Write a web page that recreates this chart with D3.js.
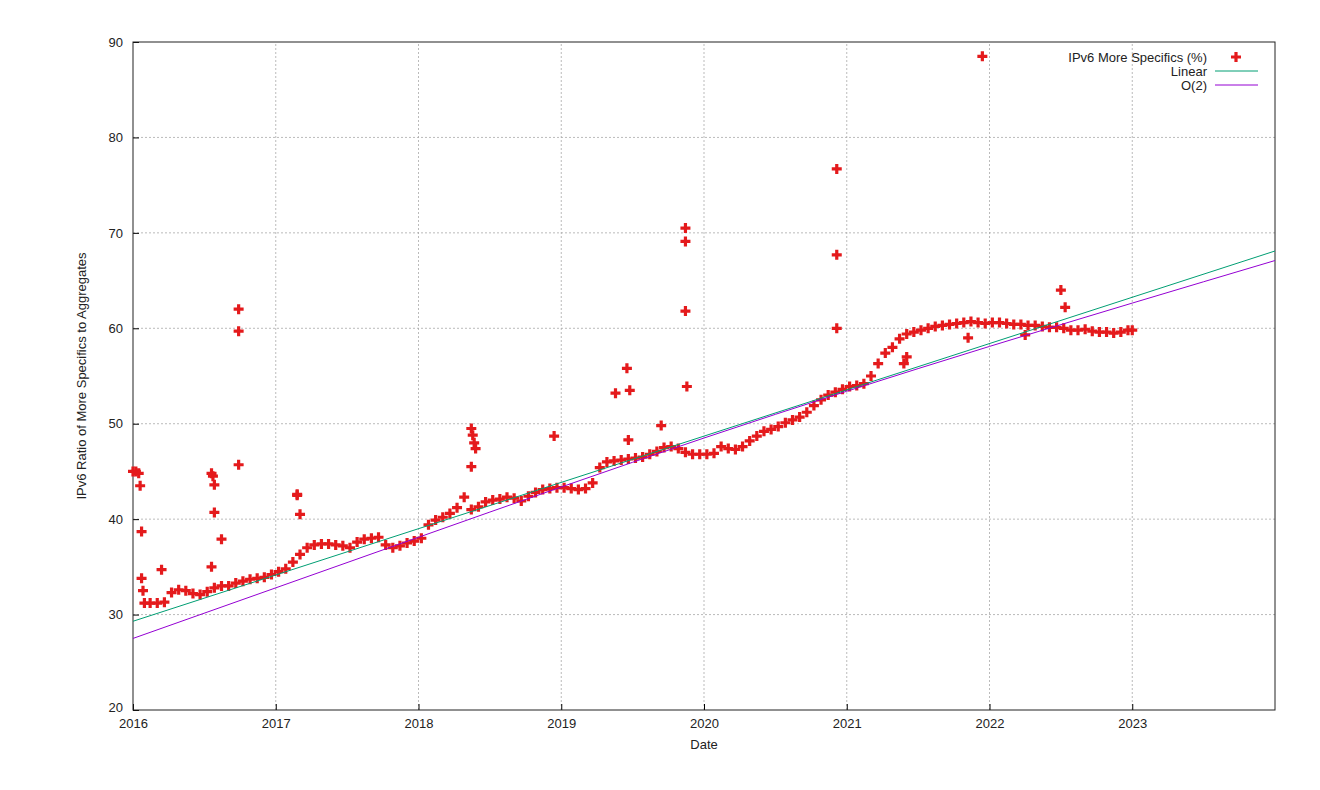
<!DOCTYPE html>
<html><head><meta charset="utf-8">
<script src="https://cdn.jsdelivr.net/npm/d3@7"></script>
<style>body{margin:0;background:#fff}text{font-family:"Liberation Sans",Arial,sans-serif;font-size:13px;fill:#222}</style>
</head><body><svg id="c" width="1320" height="790"></svg>
<script>
// main trend (decimal year, percent)
var trendYears = [2016.08,2016.12,2016.17,2016.22,2016.27,2016.32,2016.37,2016.42,2016.47,2016.52,2016.57,2016.62,2016.67,2016.72,2016.77,2016.82,2016.87,2016.92,2016.97,2017.02,2017.07,2017.12,2017.17,2017.22,2017.27,2017.32,2017.37,2017.42,2017.47,2017.52,2017.57,2017.62,2017.67,2017.72,2017.77,2017.82,2017.87,2017.92,2017.97,2018.02,2018.07,2018.12,2018.17,2018.22,2018.27,2018.32,2018.37,2018.42,2018.47,2018.52,2018.57,2018.62,2018.67,2018.72,2018.77,2018.82,2018.87,2018.92,2018.97,2019.02,2019.07,2019.12,2019.17,2019.22,2019.27,2019.32,2019.37,2019.42,2019.47,2019.52,2019.57,2019.62,2019.67,2019.72,2019.77,2019.82,2019.87,2019.92,2019.97,2020.02,2020.07,2020.12,2020.17,2020.22,2020.27,2020.32,2020.37,2020.42,2020.47,2020.52,2020.57,2020.62,2020.67,2020.72,2020.77,2020.82,2020.87,2020.92,2020.97,2021.02,2021.07,2021.12,2021.17,2021.22,2021.27,2021.32,2021.37,2021.42,2021.47,2021.52,2021.57,2021.62,2021.67,2021.72,2021.77,2021.82,2021.87,2021.92,2021.97,2022.02,2022.07,2022.12,2022.17,2022.22,2022.27,2022.32,2022.37,2022.42,2022.47,2022.52,2022.57,2022.62,2022.67,2022.72,2022.77,2022.82,2022.87,2022.92,2022.97,2023.0];
var trendValues = [31.2,31.2,31.2,31.3,32.3,32.6,32.5,32.2,32.1,32.4,32.8,33.0,33.0,33.3,33.5,33.7,33.8,33.9,34.2,34.5,34.8,35.5,36.3,37.0,37.3,37.4,37.4,37.3,37.2,37.0,37.6,37.9,38.0,38.1,37.3,37.0,37.2,37.5,37.7,38.0,39.4,39.9,40.2,40.6,41.2,42.3,41.0,41.3,41.8,42.0,42.1,42.3,42.2,41.9,42.4,42.8,43.1,43.2,43.3,43.3,43.2,43.1,43.2,43.8,45.4,46.0,46.1,46.2,46.3,46.4,46.5,46.8,47.1,47.5,47.6,47.4,47.0,46.8,46.8,46.8,46.9,47.6,47.4,47.3,47.6,48.2,48.7,49.2,49.4,49.7,50.1,50.4,50.7,51.2,51.9,52.5,53.0,53.3,53.6,53.9,54.0,54.2,55.0,56.3,57.4,58.0,58.9,59.4,59.6,59.8,60.0,60.2,60.3,60.4,60.5,60.6,60.7,60.6,60.5,60.6,60.6,60.5,60.4,60.4,60.3,60.3,60.2,60.1,60.1,60.0,59.8,59.8,59.9,59.7,59.6,59.6,59.5,59.6,59.8,59.8];
// outliers
var outYears = [2016.0,2016.02,2016.04,2016.05,2016.06,2016.06,2016.07,2016.2,2016.55,2016.56,2016.57,2016.57,2016.55,2016.62,2016.74,2016.74,2016.74,2017.15,2017.17,2017.15,2018.37,2018.38,2018.39,2018.37,2018.4,2018.95,2019.38,2019.46,2019.48,2019.47,2019.7,2019.87,2019.87,2019.87,2019.88,2020.93,2020.93,2020.93,2021.95,2022.5,2022.53,2021.4,2021.42,2021.85,2022.25];
var outValues = [45.0,45.0,44.8,43.5,38.7,33.8,32.5,34.7,44.8,44.5,43.6,40.7,35.0,37.9,62.0,59.7,45.7,42.5,40.5,42.6,49.5,48.8,48.0,45.5,47.4,48.7,53.2,55.8,53.5,48.3,49.8,70.5,69.1,61.8,53.9,76.7,67.7,60.0,88.5,64.0,62.2,56.3,57.0,59.0,59.3];
// fitted curves
var linearYears = [2016, 2024], linearValues = [29.3, 68.1];
var quadYears = [2016, 2018, 2020, 2022, 2024], quadValues = [27.5, 38.1, 48.5, 58.1, 67.1];
var yearTicks = [2016,2017,2018,2019,2020,2021,2022,2023];
var valueTicks = [20,30,40,50,60,70,80,90];

var svg = d3.select("#c");
var L = 133, R = 1275, T = 42, B = 710;
var x = d3.scaleLinear().domain([2016, 2024]).range([L, R]);
var y = d3.scaleLinear().domain([20, 90]).range([B, T]);

var grid = svg.append("g").attr("stroke", "#aaa").attr("stroke-dasharray", "2,2").attr("stroke-width", 0.8);
yearTicks.slice(1).forEach(function (t) {
    grid.append("line").attr("x1", x(t)).attr("x2", x(t)).attr("y1", B).attr("y2", T);
});
valueTicks.slice(1, -1).forEach(function (t) {
    grid.append("line").attr("x1", L).attr("x2", R).attr("y1", y(t)).attr("y2", y(t));
});

var xa = svg.append("g").attr("transform", "translate(0," + B + ")")
    .call(d3.axisBottom(x).tickValues(yearTicks).tickFormat(d3.format("d")).tickSizeInner(-6).tickSizeOuter(0).tickPadding(9));
var ya = svg.append("g").attr("transform", "translate(" + L + ",0)")
    .call(d3.axisLeft(y).tickValues(valueTicks).tickSizeInner(-6).tickSizeOuter(0).tickPadding(10));
[xa, ya].forEach(function (a) {
    a.selectAll("text").style("font-size", "13px").attr("fill", "#222");
    a.select(".domain").remove();
});
ya.selectAll(".tick").filter(function (d) { return d === 20; }).select("text").attr("dy", "0.1em");
svg.append("rect").attr("x", L).attr("y", T).attr("width", R - L).attr("height", B - T)
    .attr("fill", "none").attr("stroke", "#222");

function plus(g, px, py) {
    g.append("path").attr("d", "M" + (px - 5) + "," + py + "h10M" + px + "," + (py - 5) + "v10");
}
var pts = svg.append("g").attr("stroke", "#e41a1c").attr("stroke-width", 3.2);
trendYears.forEach(function (t, i) { plus(pts, x(t), y(trendValues[i])); });
outYears.forEach(function (t, i) { plus(pts, x(t), y(outValues[i])); });

var line = d3.line().x(function (d) { return x(d[0]); }).y(function (d) { return y(d[1]); });
svg.append("path").attr("fill", "none").attr("stroke", "#009e73").attr("stroke-width", 1)
    .attr("d", line(d3.zip(linearYears, linearValues)));
svg.append("path").attr("fill", "none").attr("stroke", "#9400d3").attr("stroke-width", 1)
    .attr("d", line.curve(d3.curveNatural)(d3.zip(quadYears, quadValues)));

// legend
var lg = svg.append("g");
[["IPv6 More Specifics (%)", "pt"], ["Linear", "#009e73"], ["O(2)", "#9400d3"]].forEach(function (d, i) {
    var ly = 57 + i * 14;
    lg.append("text").attr("x", 1207).attr("y", ly + 5).attr("text-anchor", "end").text(d[0]);
    if (d[1] === "pt") {
        var g = lg.append("g").attr("stroke", "#e41a1c").attr("stroke-width", 3.2);
        plus(g, 1236, ly);
    } else {
        lg.append("line").attr("x1", 1215).attr("x2", 1258).attr("y1", ly).attr("y2", ly).attr("stroke", d[1]);
    }
});

svg.append("text").attr("x", (L + R) / 2).attr("y", 749).attr("text-anchor", "middle").text("Date");
svg.append("text").attr("transform", "translate(86," + (T + B) / 2 + ") rotate(-90)")
    .attr("text-anchor", "middle").text("IPv6 Ratio of More Specifics to Aggregates");
</script></body></html>
